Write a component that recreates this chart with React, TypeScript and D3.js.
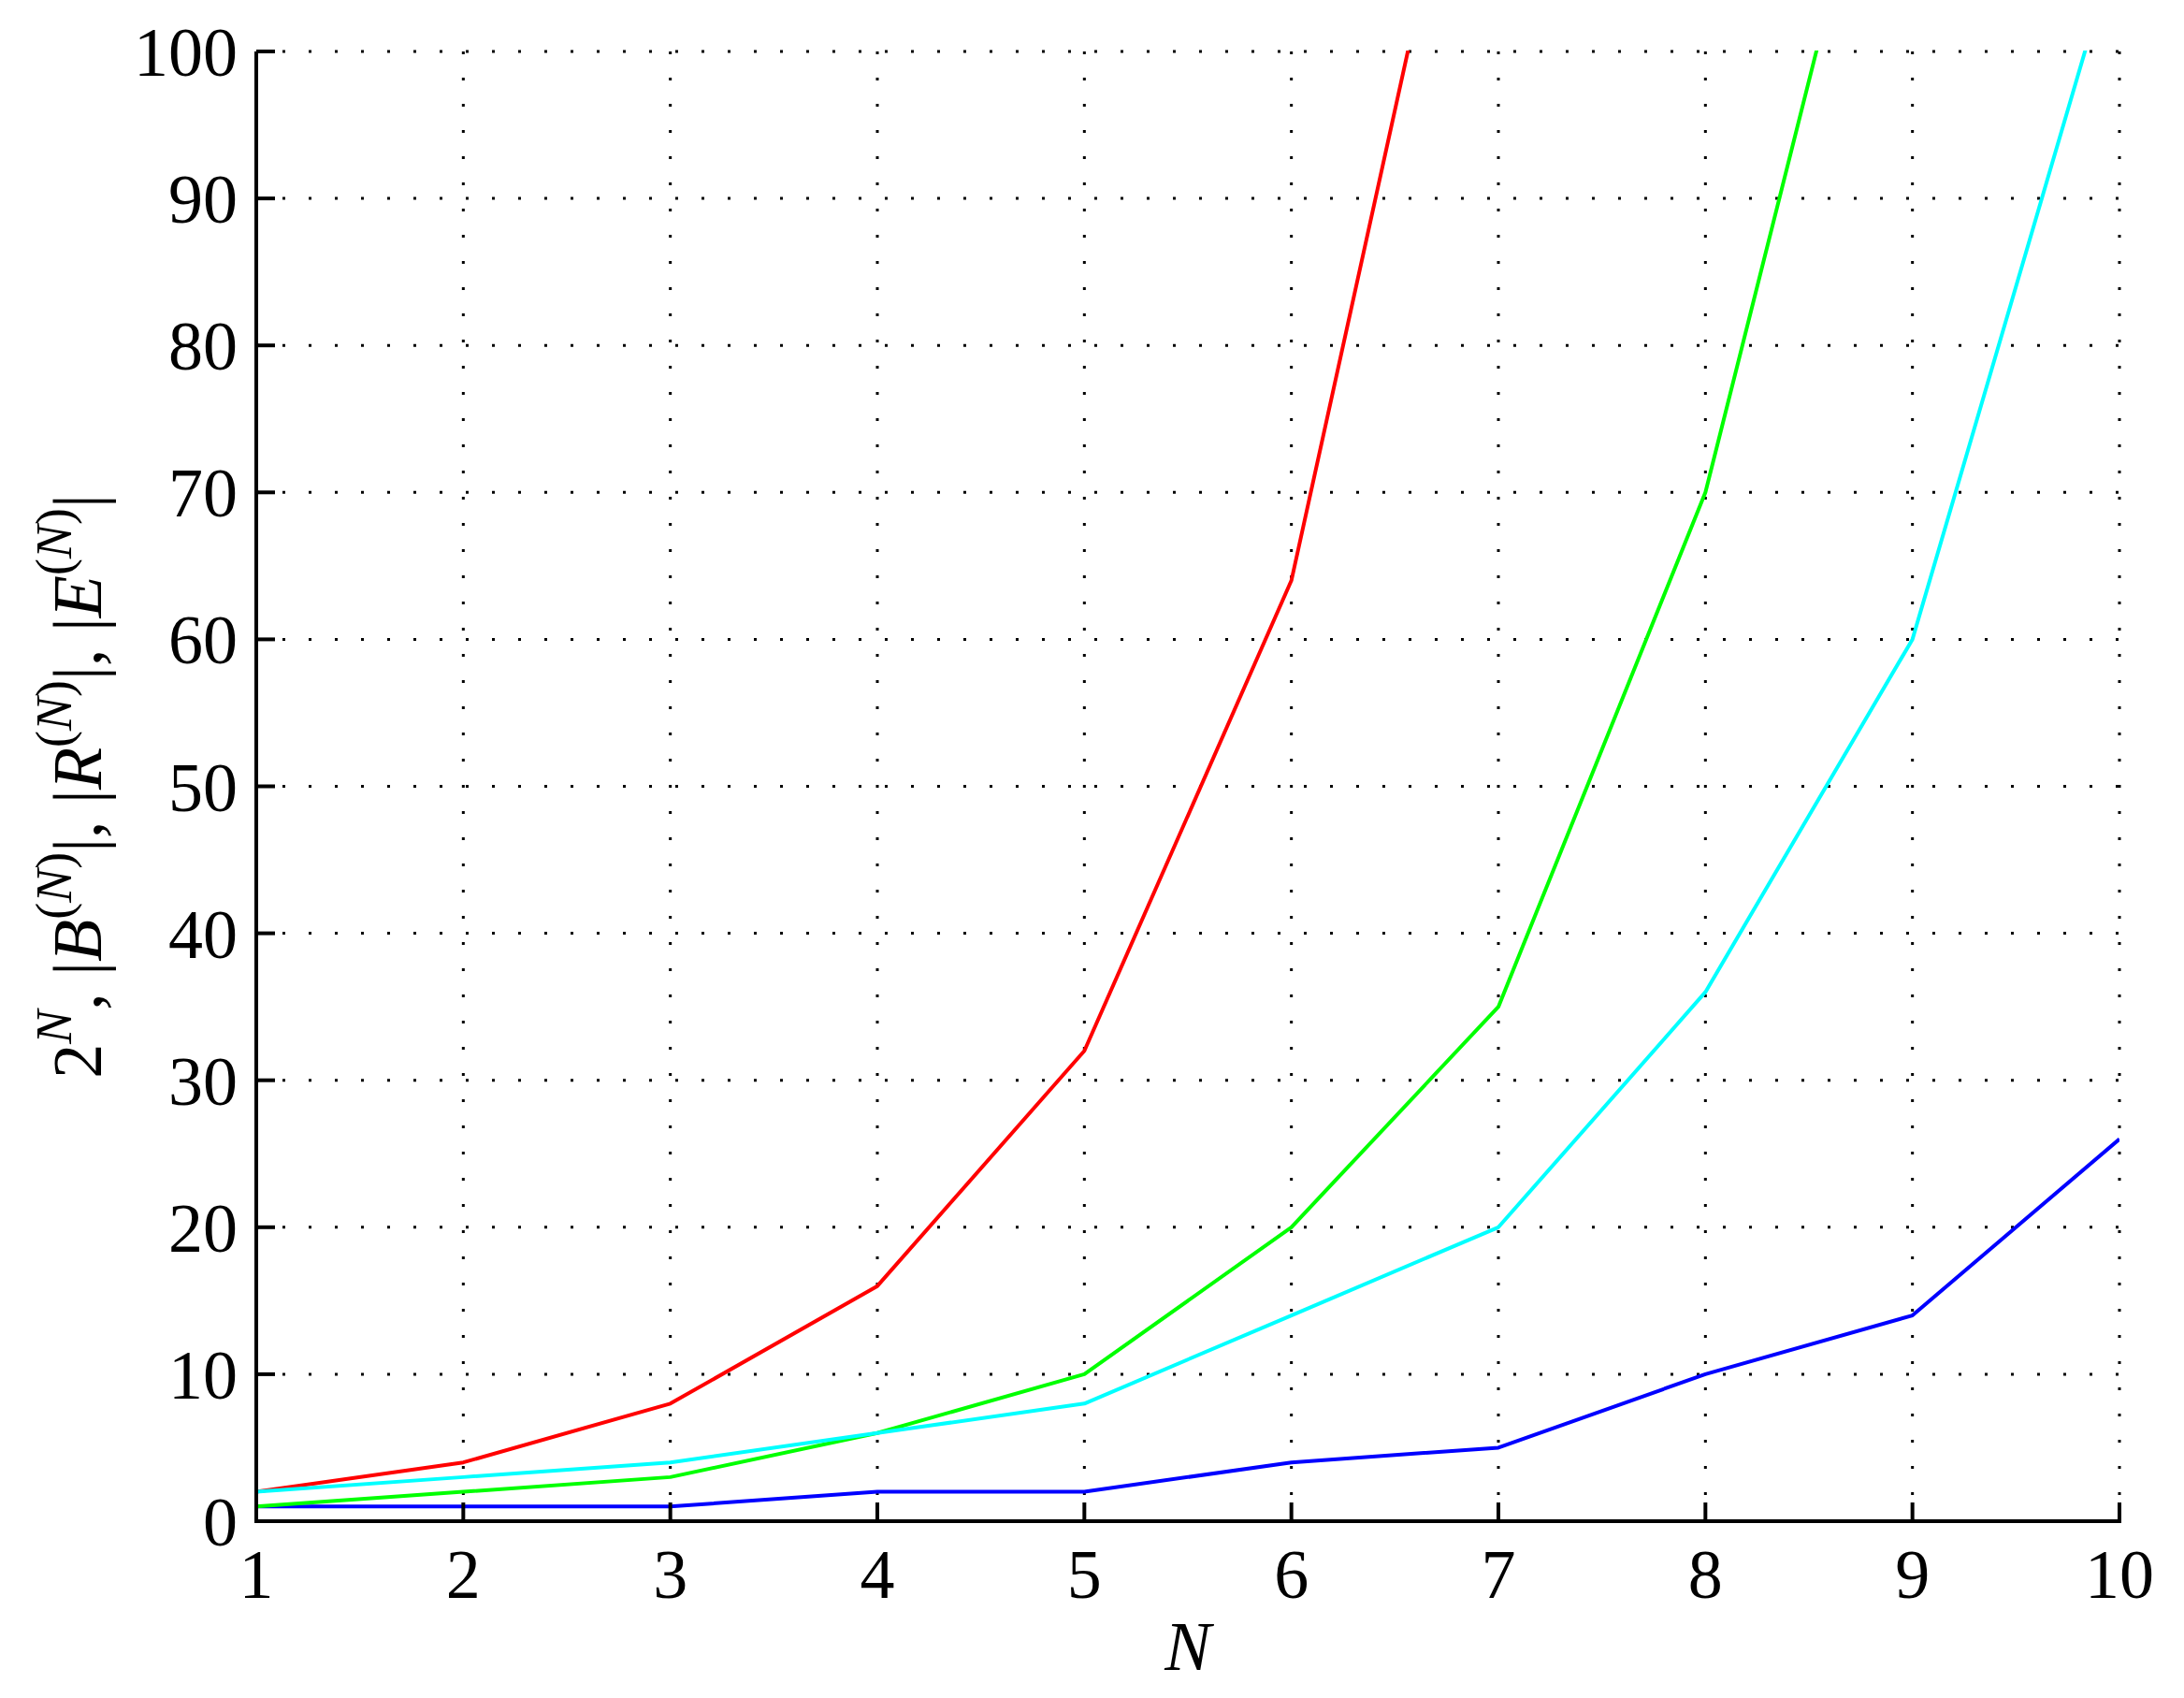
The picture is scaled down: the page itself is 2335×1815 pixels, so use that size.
import React from "react";
import * as d3 from "d3";

const Ns = [1, 2, 3, 4, 5, 6, 7, 8, 9, 10];
const pow2 = [2, 4, 8, 16, 32, 64, 128, 256, 512, 1024];
const bVals = [1, 1, 1, 2, 2, 4, 5, 10, 14, 26];
const rVals = [1, 2, 3, 6, 10, 20, 35, 70, 126, 252];
const eVals = [2, 3, 4, 6, 8, 14, 20, 36, 60, 108];
const xTicks = [1, 2, 3, 4, 5, 6, 7, 8, 9, 10];
const yTicks = [0, 10, 20, 30, 40, 50, 60, 70, 80, 90, 100];

const series = [
  { name: "2^N", values: pow2, color: "#ff0000" },
  { name: "B", values: bVals, color: "#0000ff" },
  { name: "R", values: rVals, color: "#00ff00" },
  { name: "E", values: eVals, color: "#00ffff" },
];

const W = 2335;
const H = 1815;
const L = 274;
const R = 2266;
const T = 55;
const B = 1626;
const FONT = "Liberation Serif";

export default function App() {
  const x = d3.scaleLinear().domain([1, 10]).range([L, R]);
  const y = d3.scaleLinear().domain([0, 100]).range([B, T]);
  const line = d3
    .line<number>()
    .x((_, i) => x(Ns[i]))
    .y((d) => y(d));

  const sup = { fontSize: 54 };
  return (
    <svg
      width={W}
      height={H}
      style={{ position: "absolute", left: 0, top: 0, background: "#fff", fontFamily: FONT }}
    >
      <rect width={W} height={H} fill="#fff" />
      <defs>
        <clipPath id="plot">
          <rect x={L} y={T - 1} width={R - L} height={B - T + 1} />
        </clipPath>
      </defs>
      {/* grid */}
      <g stroke="#000" strokeWidth={3} strokeDasharray="3 25" fill="none">
        {xTicks.slice(1).map((t) => (
          <line key={"gx" + t} x1={x(t)} x2={x(t)} y1={T} y2={B} />
        ))}
        {yTicks.slice(1).map((t) => (
          <line key={"gy" + t} x1={L} x2={R} y1={y(t)} y2={y(t)} />
        ))}
      </g>
      {/* series */}
      <g clipPath="url(#plot)" fill="none" strokeWidth={4} strokeLinejoin="round">
        {series.map((s) => (
          <path key={s.name} d={line(s.values) || ""} stroke={s.color} />
        ))}
      </g>
      {/* axes */}
      <g stroke="#000" strokeWidth={4} fill="none">
        <line x1={L} x2={L} y1={T} y2={B + 2} />
        <line x1={L - 2} x2={R + 2} y1={B} y2={B} />
        {yTicks.map((t) => (
          <line key={"ty" + t} x1={L} x2={L + 20} y1={y(t)} y2={y(t)} />
        ))}
        {xTicks.map((t) => (
          <line key={"tx" + t} x1={x(t)} x2={x(t)} y1={B} y2={B - 20} />
        ))}
      </g>
      {/* tick labels */}
      <g fontSize={74} fill="#000">
        {yTicks.map((t) => (
          <text key={"ly" + t} x={L - 20} y={y(t) + 26} textAnchor="end">
            {t}
          </text>
        ))}
        {xTicks.map((t) => (
          <text key={"lx" + t} x={x(t)} y={B + 82} textAnchor="middle">
            {t}
          </text>
        ))}
      </g>
      {/* x label */}
      <text x={(L + R) / 2} y={1785} fontSize={74} fontStyle="italic" textAnchor="middle">
        N
      </text>
      {/* y label */}
      <text
        transform={`translate(108, ${(T + B) / 2}) rotate(-90)`}
        fontSize={74}
        textAnchor="middle"
      >
        <tspan>2</tspan>
        <tspan {...sup} fontStyle="italic" dy={-32}>N</tspan>
        <tspan dy={32}>, |</tspan>
        <tspan fontStyle="italic">B</tspan>
        <tspan {...sup} dy={-32}>(</tspan>
        <tspan {...sup} fontStyle="italic">N</tspan>
        <tspan {...sup}>)</tspan>
        <tspan dy={32}>|, |</tspan>
        <tspan fontStyle="italic">R</tspan>
        <tspan {...sup} dy={-32}>(</tspan>
        <tspan {...sup} fontStyle="italic">N</tspan>
        <tspan {...sup}>)</tspan>
        <tspan dy={32}>|, |</tspan>
        <tspan fontStyle="italic">E</tspan>
        <tspan {...sup} dy={-32}>(</tspan>
        <tspan {...sup} fontStyle="italic">N</tspan>
        <tspan {...sup}>)</tspan>
        <tspan dy={32}>|</tspan>
      </text>
    </svg>
  );
}
